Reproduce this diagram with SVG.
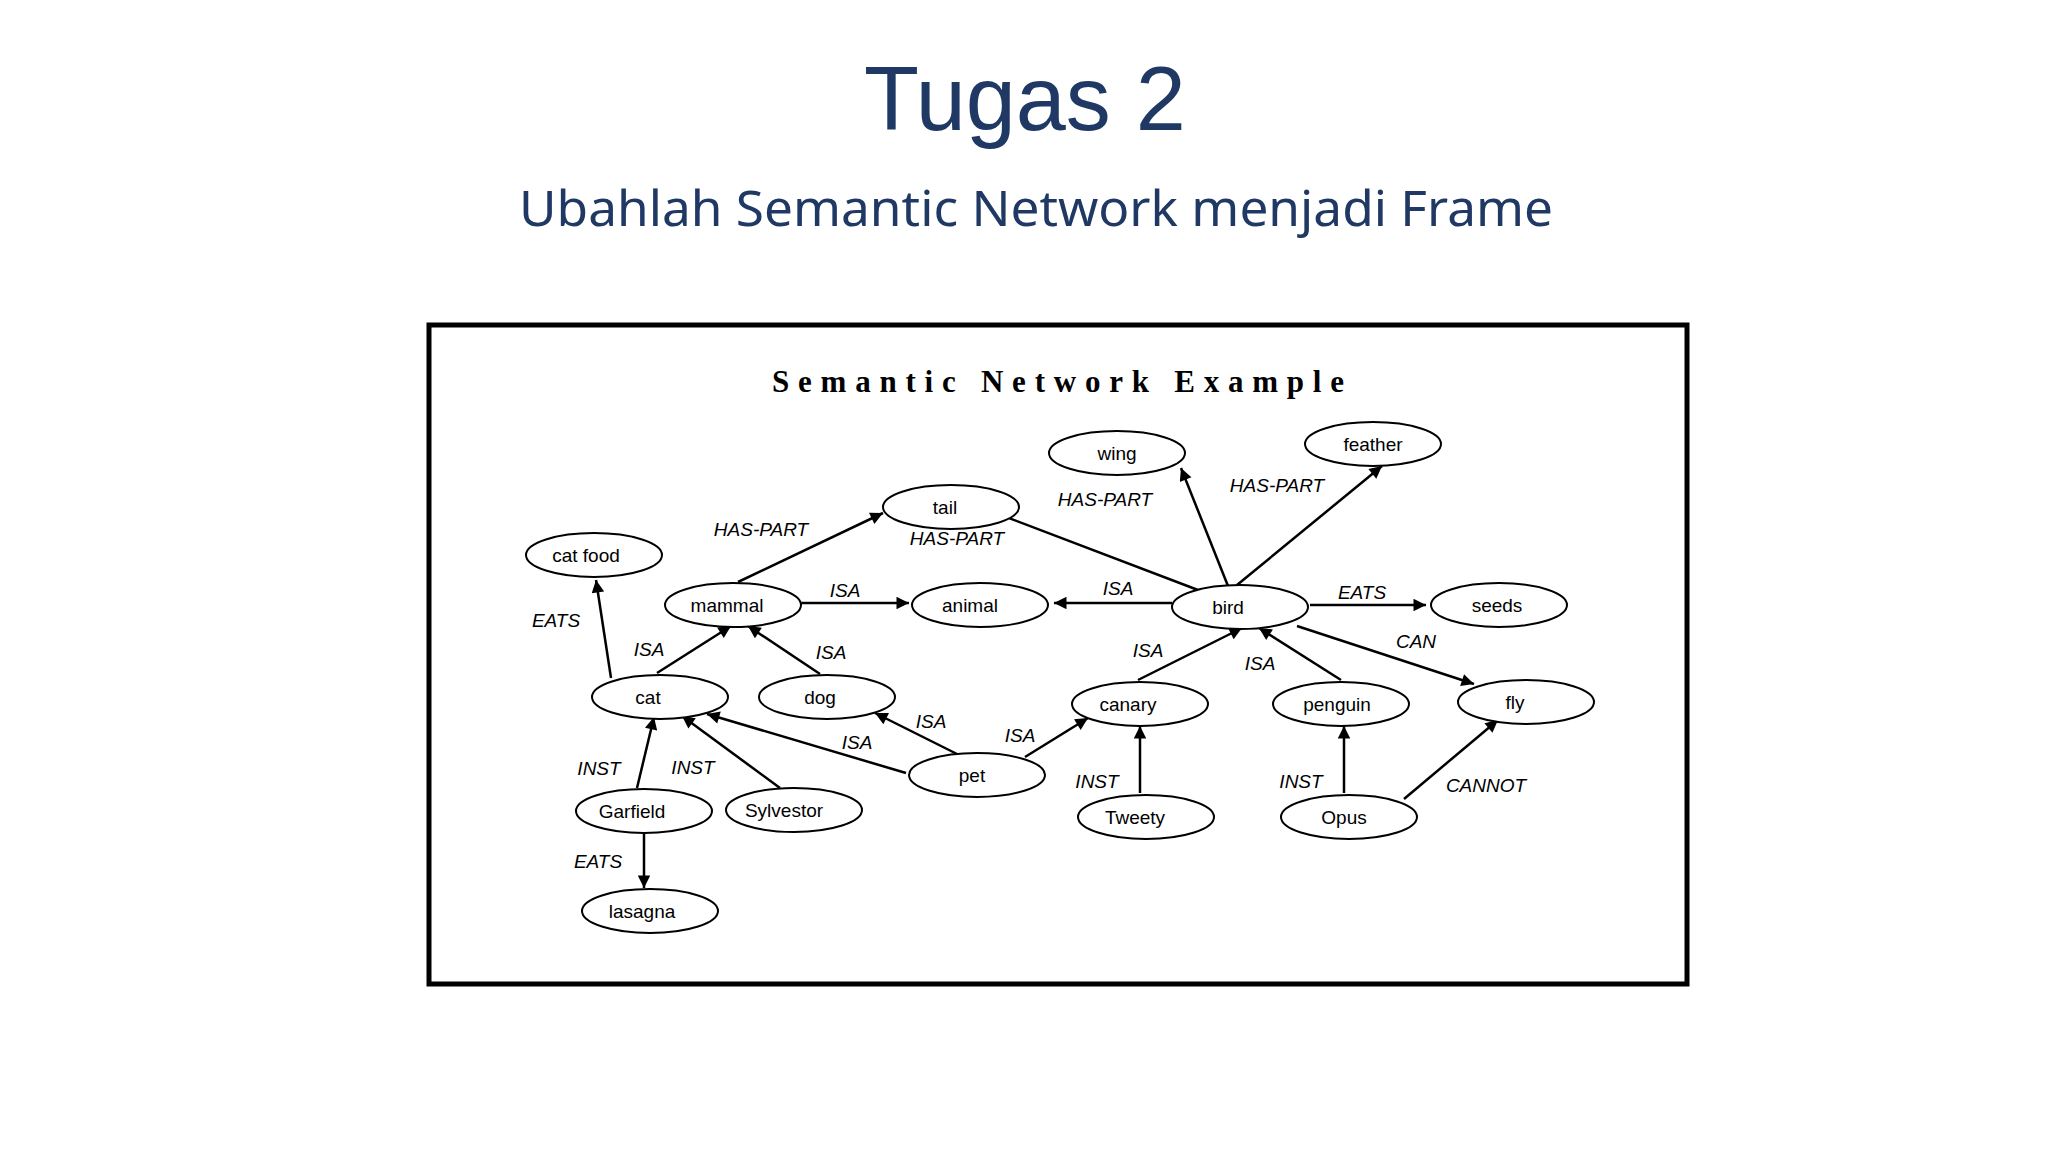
<svg xmlns="http://www.w3.org/2000/svg" width="2048" height="1152" viewBox="0 0 2048 1152">
<style>
.n ellipse{fill:#fff;stroke:#000;stroke-width:2}
.n text{font-family:"Liberation Sans",Arial,sans-serif;font-size:19px;text-anchor:middle;fill:#000}
#edges line{stroke:#000;stroke-width:2.5;marker-end:url(#ah)}
.l{font-family:"Liberation Sans",Arial,sans-serif;font-size:19px;font-style:italic;text-anchor:middle;fill:#000}
</style>
<defs><marker id="ah" viewBox="0 0 10 10" refX="10" refY="5" markerWidth="6" markerHeight="5" orient="auto" markerUnits="strokeWidth"><path d="M0,0L10,5L0,10z" fill="#000"/></marker></defs>
<rect width="2048" height="1152" fill="#fff"/>
<text x="1025" y="130" font-family="Liberation Sans,Arial,sans-serif" font-size="90" fill="#1F3864" text-anchor="middle">Tugas 2</text>
<text x="1036" y="226" font-family="Noto Sans,sans-serif" font-size="50" fill="#1F3864" text-anchor="middle" textLength="1034" lengthAdjust="spacingAndGlyphs">Ubahlah Semantic Network menjadi Frame</text>
<rect x="429" y="325" width="1258" height="659" fill="#fff" stroke="#000" stroke-width="5"/>
<text x="1058" y="392" font-family="Liberation Serif,serif" font-weight="bold" font-size="31" text-anchor="middle" textLength="572">Semantic Network Example</text>
<g id="edges">
<line x1="738" y1="582" x2="883" y2="513"/>
<line x1="1198" y1="590" x2="993" y2="512"/>
<line x1="1228" y1="586" x2="1181" y2="468"/>
<line x1="1237" y1="585" x2="1382" y2="466"/>
<line x1="801" y1="603" x2="909" y2="603"/>
<line x1="1172" y1="603" x2="1054" y2="603"/>
<line x1="1310" y1="605" x2="1426" y2="605"/>
<line x1="1297" y1="626" x2="1474" y2="684"/>
<line x1="611" y1="678" x2="596" y2="580"/>
<line x1="657" y1="673" x2="731" y2="626"/>
<line x1="820" y1="674" x2="748" y2="626"/>
<line x1="957" y1="754" x2="875" y2="713"/>
<line x1="906" y1="773" x2="707" y2="714"/>
<line x1="1025" y1="757" x2="1088" y2="718"/>
<line x1="1138" y1="680" x2="1242" y2="628"/>
<line x1="1341" y1="680" x2="1259" y2="628"/>
<line x1="1140" y1="793" x2="1140" y2="726"/>
<line x1="1344" y1="793" x2="1344" y2="726"/>
<line x1="1404" y1="799" x2="1498" y2="720"/>
<line x1="637" y1="788" x2="654" y2="717"/>
<line x1="780" y1="788" x2="682" y2="716"/>
<line x1="644" y1="833" x2="644" y2="888"/>
<text class="l" x="761" y="536">HAS-PART</text>
<text class="l" x="957" y="545">HAS-PART</text>
<text class="l" x="1105" y="506">HAS-PART</text>
<text class="l" x="1277" y="492">HAS-PART</text>
<text class="l" x="845" y="597">ISA</text>
<text class="l" x="1118" y="595">ISA</text>
<text class="l" x="1362" y="599">EATS</text>
<text class="l" x="1416" y="648">CAN</text>
<text class="l" x="556" y="627">EATS</text>
<text class="l" x="649" y="656">ISA</text>
<text class="l" x="831" y="659">ISA</text>
<text class="l" x="931" y="728">ISA</text>
<text class="l" x="857" y="749">ISA</text>
<text class="l" x="1020" y="742">ISA</text>
<text class="l" x="1148" y="657">ISA</text>
<text class="l" x="1260" y="670">ISA</text>
<text class="l" x="1097" y="788">INST</text>
<text class="l" x="1301" y="788">INST</text>
<text class="l" x="1486" y="792">CANNOT</text>
<text class="l" x="599" y="775">INST</text>
<text class="l" x="693" y="774">INST</text>
<text class="l" x="598" y="868">EATS</text>
</g>
<g id="wing" class="n"><ellipse cx="1117" cy="453" rx="68" ry="22"/><text x="1117" y="460">wing</text></g>
<g id="feather" class="n"><ellipse cx="1373" cy="444" rx="68" ry="22"/><text x="1373" y="451">feather</text></g>
<g id="tail" class="n"><ellipse cx="951" cy="507" rx="68" ry="22"/><text x="945" y="514">tail</text></g>
<g id="catfood" class="n"><ellipse cx="594" cy="555" rx="68" ry="22"/><text x="586" y="562">cat food</text></g>
<g id="mammal" class="n"><ellipse cx="733" cy="605" rx="68" ry="22"/><text x="727" y="612">mammal</text></g>
<g id="animal" class="n"><ellipse cx="980" cy="605" rx="68" ry="22"/><text x="970" y="612">animal</text></g>
<g id="bird" class="n"><ellipse cx="1240" cy="607" rx="68" ry="22"/><text x="1228" y="614">bird</text></g>
<g id="seeds" class="n"><ellipse cx="1499" cy="605" rx="68" ry="22"/><text x="1497" y="612">seeds</text></g>
<g id="cat" class="n"><ellipse cx="660" cy="697" rx="68" ry="22"/><text x="648" y="704">cat</text></g>
<g id="dog" class="n"><ellipse cx="827" cy="697" rx="68" ry="22"/><text x="820" y="704">dog</text></g>
<g id="canary" class="n"><ellipse cx="1140" cy="704" rx="68" ry="22"/><text x="1128" y="711">canary</text></g>
<g id="penguin" class="n"><ellipse cx="1341" cy="704" rx="68" ry="22"/><text x="1337" y="711">penguin</text></g>
<g id="fly" class="n"><ellipse cx="1526" cy="702" rx="68" ry="22"/><text x="1515" y="709">fly</text></g>
<g id="pet" class="n"><ellipse cx="977" cy="775" rx="68" ry="22"/><text x="972" y="782">pet</text></g>
<g id="Garfield" class="n"><ellipse cx="644" cy="811" rx="68" ry="22"/><text x="632" y="818">Garfield</text></g>
<g id="Sylvestor" class="n"><ellipse cx="794" cy="810" rx="68" ry="22"/><text x="784" y="817">Sylvestor</text></g>
<g id="Tweety" class="n"><ellipse cx="1146" cy="817" rx="68" ry="22"/><text x="1135" y="824">Tweety</text></g>
<g id="Opus" class="n"><ellipse cx="1349" cy="817" rx="68" ry="22"/><text x="1344" y="824">Opus</text></g>
<g id="lasagna" class="n"><ellipse cx="650" cy="911" rx="68" ry="22"/><text x="642" y="918">lasagna</text></g>
</svg>
